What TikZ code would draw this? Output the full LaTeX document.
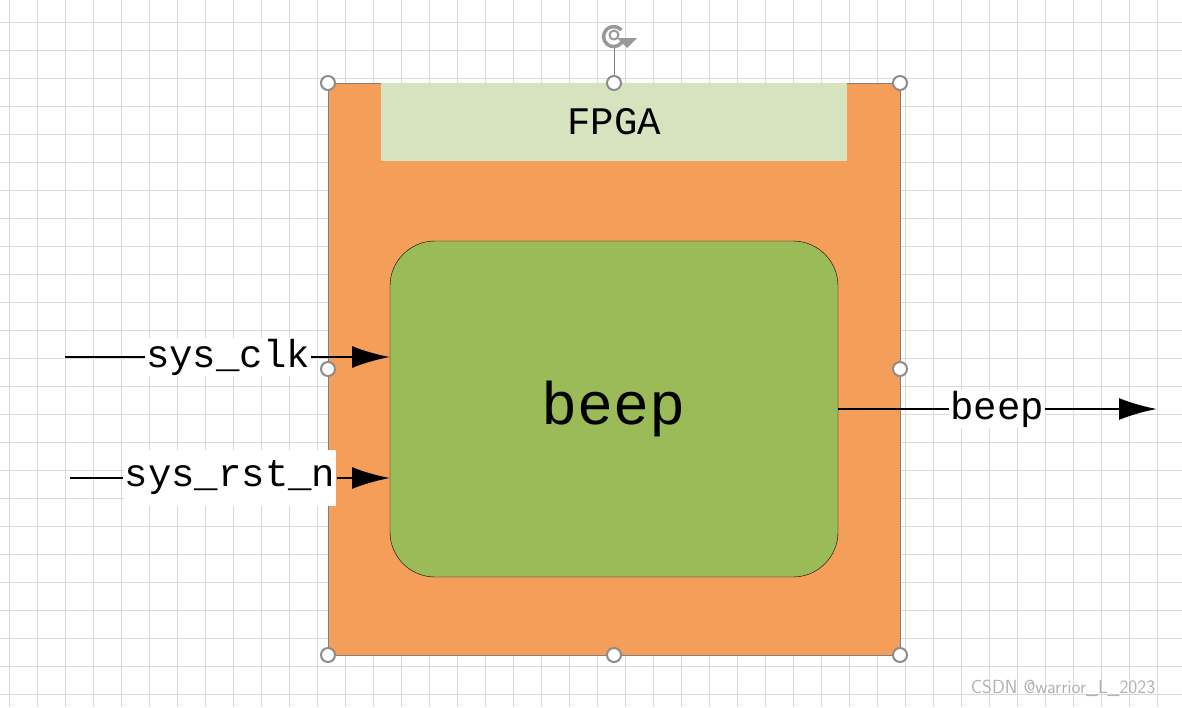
\documentclass[tikz,border=0pt]{standalone}
\usepackage{fontspec}
\setmainfont{Liberation Mono}
\usetikzlibrary{arrows.meta}
\definecolor{orng}{RGB}{245,158,89}
\definecolor{lgrn}{RGB}{215,227,191}
\definecolor{grn}{RGB}{155,187,89}
\begin{document}
\begin{tikzpicture}[x=1pt,y=-1pt,
  handle/.style={circle,draw=gray!90,line width=2pt,fill=white,minimum size=14pt,inner sep=0pt},
  lbl/.style={fill=white,inner sep=1pt,font=\fontsize{39}{39}\selectfont},
  arr/.style={line width=2.5pt,-{Latex[length=38pt,width=22pt]}},
  ln/.style={line width=2.5pt}]
\useasboundingbox (0,0) rectangle (1182,707);
\foreach \i in {0,...,42} \draw[gray!30,line width=0.8pt] (9.5+28*\i,0) -- (9.5+28*\i,707);
\foreach \i in {0,...,25} \draw[gray!30,line width=0.8pt] (0,22.5+28*\i) -- (1182,22.5+28*\i);
\node[draw=gray,fill=orng,minimum width=572pt,minimum height=572pt,inner sep=0pt] (fpga) at (614,369) {};
\node[fill=lgrn,minimum width=466pt,minimum height=78pt,inner sep=0pt,font=\fontsize{39}{39}\selectfont] (title) at (614,122) {FPGA};
\node[draw=black,fill=grn,rounded corners=45pt,minimum width=448pt,minimum height=336pt,inner sep=0pt,font=\fontsize{60}{60}\selectfont] (beep) at (614,409) {beep};
\coordinate (c0) at (65,357);
\coordinate (r0) at (70,478);
\coordinate (c1) at (390,357);
\coordinate (r1) at (390,478);
\coordinate (bo) at (838,409);
\coordinate (b1) at (1157,409);
\node[lbl] (clk) at (228,357) {sys\_clk};
\node[lbl,minimum height=56pt] (rst) at (230,478) {sys\_rst\_n};
\node[lbl] (bl) at (997,409) {beep};
\draw[ln] (c0) -- (clk.west);
\draw[arr] (clk.east) -- (c1);
\draw[ln] (r0) -- (rst.west);
\draw[arr] (rst.east) -- (r1);
\draw[ln] (bo) -- (bl.west);
\draw[arr] (bl.east) -- (b1);
\coordinate (rot) at (614,45);
\draw[gray,line width=0.8pt] (rot) -- (614,83);
\draw[gray!80,line width=3.5pt] (623,40) arc (20:320:10);
\draw[gray!80,line width=2pt] (614,35) circle (4.5);
\fill[gray!80] (617,38) -- (637,38) -- (627,48) -- cycle;
\foreach \p in {(328,83),(614,83),(900,83),(328,369),(900,369),(328,655),(614,655),(900,655)}
  \node[handle] at \p {};
\node[text=gray!60,font=\sffamily\fontsize{19}{19}\selectfont] (wm) at (1063,688) {CSDN @warrior\_L\_2023};
\end{tikzpicture}
\end{document}
